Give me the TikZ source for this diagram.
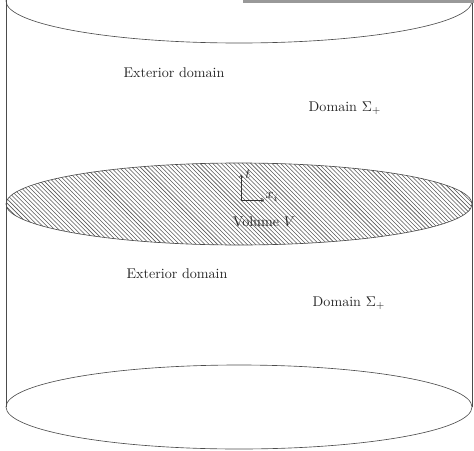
\documentclass[tikz,border=0pt]{standalone}
\usetikzlibrary{patterns,arrows.meta}
\begin{document}
\begin{tikzpicture}[x=0.709pt,y=-0.709pt,
  rim/.style={draw=black!70,line width=0.45pt},
  lbl/.style={inner sep=0pt,text=black!85}]
\useasboundingbox (0,0) rectangle (474,450);
% vertical walls
\draw[rim] (6,0) -- (6,407);
\draw[rim] (472,0) -- (472,407);
% top ellipse (clipped)
\begin{scope}
\clip (0,0) rectangle (474,450);
\draw[rim] (239,1) ellipse [x radius=233, y radius=42];
\fill[black!40] (243,0) rectangle (474,3);
\end{scope}
% middle hatched ellipse
\draw[rim,pattern=north west lines,pattern color=black!65] (239,204) ellipse [x radius=233, y radius=41];
% bottom ellipse
\draw[rim] (239,407) ellipse [x radius=233, y radius=42];
% axes
\coordinate (o) at (241,200);
\coordinate (tt) at (241,175);
\coordinate (xx) at (264,200);
\draw[black!80,line width=0.4pt,-{To[length=2pt,width=3pt]}] (o) -- (tt);
\draw[black!80,line width=0.4pt,-{To[length=2pt,width=3pt]}] (o) -- (xx);
\node[lbl] (tl) at (248,174) {$t$};
\node[lbl] (xl) at (272,197) {$x_i$};
% labels
\node[lbl] (ext1) at (174,73) {Exterior domain};
\node[lbl] (dom1) at (345,108) {Domain $\Sigma_+$};
\node[lbl] (vol) at (264,222) {Volume $V$};
\node[lbl] (ext2) at (177,274) {Exterior domain};
\node[lbl] (dom2) at (349,303) {Domain $\Sigma_+$};
\end{tikzpicture}
\end{document}
